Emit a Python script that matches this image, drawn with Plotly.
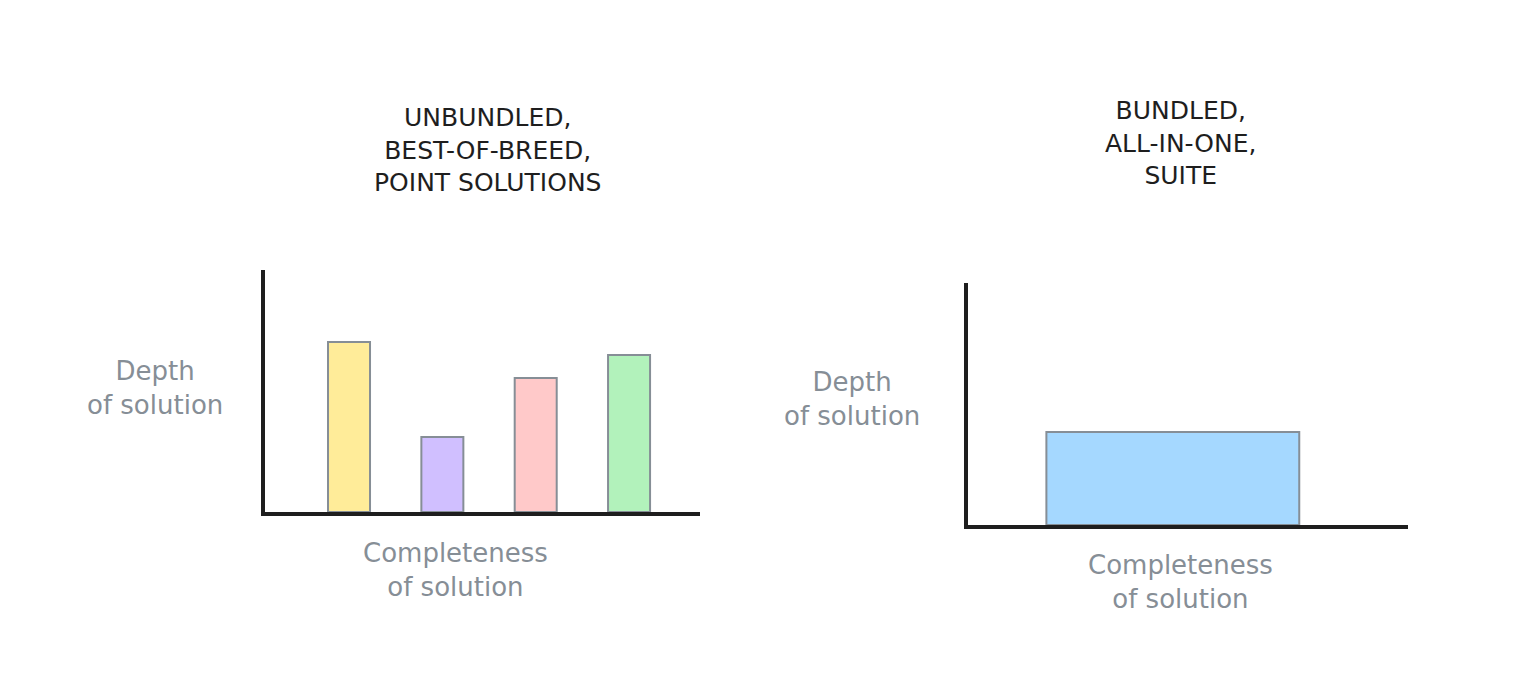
import plotly.graph_objects as go

# left panel: unbundled point solutions
left_cats = ["A", "B", "C", "D"]
left_vals = [170, 75, 134, 157]
left_colors = ["#ffec99", "#d0bfff", "#ffc9c9", "#b2f2bb"]

# right panel: bundled suite
right_cats = ["Suite"]
right_vals = [93]
right_colors = ["#a5d8ff"]

left_title = "UNBUNDLED,<br>BEST-OF-BREED,<br>POINT SOLUTIONS"
right_title = "BUNDLED,<br>ALL-IN-ONE,<br>SUITE"
y_label = "Depth<br>of solution"
x_label = "Completeness<br>of solution"

W, H = 1538, 692
INK = "#1e1e1e"
GRAY = "#868e96"
# page renders slightly offset; compensate
DX, DY = -8, -10


def px_x(v):
    return (v + DX) / W


def px_y(v):
    return 1 - (v + DY) / H


fig = go.Figure()
fig.add_trace(go.Bar(x=left_cats, y=left_vals, marker_color=left_colors,
                     marker_line_color=GRAY, marker_line_width=2,
                     xaxis="x", yaxis="y", hoverinfo="skip"))
fig.add_trace(go.Bar(x=right_cats, y=right_vals, marker_color=right_colors,
                     marker_line_color=GRAY, marker_line_width=2,
                     xaxis="x2", yaxis="y2", hoverinfo="skip", width=1))

axis_common = dict(showline=True, linecolor=INK, linewidth=4, showgrid=False,
                   zeroline=False, showticklabels=False, ticks="")

fig.update_layout(
    width=W, height=H, margin=dict(l=0, r=0, t=0, b=0),
    paper_bgcolor="white", plot_bgcolor="white", showlegend=False,
    bargap=0.55,
    xaxis=dict(domain=[px_x(265), px_x(700)], range=[-0.9, 3.76], anchor="y", **axis_common),
    yaxis=dict(domain=[px_y(514), px_y(272)], range=[0, 242], anchor="x", **axis_common),
    xaxis2=dict(domain=[px_x(968), px_x(1408)], range=[-0.81, 0.93], anchor="y2", **axis_common),
    yaxis2=dict(domain=[px_y(527), px_y(285)], range=[0, 242], anchor="x2", **axis_common),
)

title_font = dict(family="DejaVu Sans", size=25, color=INK)
label_font = dict(family="DejaVu Sans", size=26, color=GRAY)

notes = [
    (left_title, 487, 152, title_font),
    (right_title, 1180, 145, title_font),
    (y_label, 155, 390, label_font),
    (x_label, 455, 572, label_font),
    (y_label, 852, 401, label_font),
    (x_label, 1180, 584, label_font),
]
for text, x, y, font in notes:
    fig.add_annotation(text=text, x=px_x(x), y=px_y(y), xref="paper", yref="paper",
                       showarrow=False, font=font, align="center",
                       xanchor="center", yanchor="middle")

fig.write_html("out.html")
